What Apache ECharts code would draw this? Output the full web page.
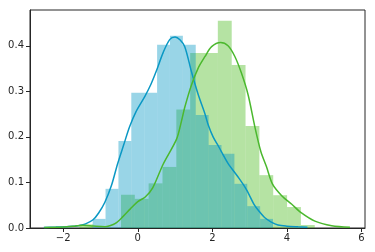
<!DOCTYPE html>
<html>
<head>
<meta charset="utf-8">
<script src="https://cdn.jsdelivr.net/npm/echarts@6/dist/echarts.min.js"></script>
<style>html,body{margin:0;padding:0;background:#fff}#c{width:375px;height:252px}</style>
</head>
<body>
<div id="c"></div>
<script>
// Histogram bin edges and density heights
var blueEdges = [-1.21, -0.865, -0.519, -0.174, 0.172, 0.518, 0.863, 1.209, 1.554, 1.900, 2.245, 2.591, 2.936, 3.282, 3.627];
var blueHeights = [0.020, 0.086, 0.191, 0.297, 0.297, 0.402, 0.422, 0.402, 0.248, 0.182, 0.163, 0.097, 0.048, 0.020];
var greenEdges = [-1.565, -1.194, -0.822, -0.451, -0.080, 0.291, 0.662, 1.034, 1.405, 1.776, 2.147, 2.519, 2.890, 3.261, 3.632, 4.004, 4.375, 4.746];
var greenHeights = [0.008, 0, 0, 0.073, 0.064, 0.098, 0.134, 0.260, 0.384, 0.384, 0.455, 0.358, 0.224, 0.116, 0.072, 0.046, 0.0066];

// KDE curves [x, density]
var blueKde = [[-2.52,0.001],[-2.2,0.002],[-1.9,0.003],[-1.6,0.005],[-1.4,0.009],[-1.2,0.018],[-1.05,0.033],[-0.886,0.056],[-0.7,0.095],[-0.545,0.140],[-0.38,0.182],[-0.22,0.222],[-0.05,0.255],[0.19,0.289],[0.35,0.315],[0.50,0.345],[0.68,0.385],[0.86,0.414],[1.0,0.419],[1.13,0.413],[1.26,0.398],[1.44,0.343],[1.62,0.293],[1.80,0.251],[1.89,0.226],[2.02,0.200],[2.16,0.180],[2.42,0.142],[2.69,0.112],[2.91,0.085],[3.13,0.050],[3.27,0.035],[3.40,0.023],[3.58,0.013],[3.76,0.0066],[4.0,0.004],[4.3,0.0025],[4.55,0.0015]];
var greenKde = [[-2.51,0.001],[-2.0,0.002],[-1.7,0.004],[-1.47,0.006],[-1.2,0.0045],[-0.886,0.003],[-0.75,0.005],[-0.6,0.010],[-0.4,0.025],[-0.2,0.042],[0.0,0.058],[0.2,0.068],[0.4,0.088],[0.68,0.140],[1.04,0.195],[1.17,0.234],[1.26,0.265],[1.44,0.314],[1.62,0.351],[1.80,0.376],[1.98,0.398],[2.22,0.407],[2.42,0.400],[2.6,0.377],[2.78,0.340],[2.96,0.292],[3.14,0.222],[3.3,0.168],[3.45,0.135],[3.61,0.097],[3.86,0.071],[4.13,0.052],[4.39,0.033],[4.75,0.015],[5.2,0.005],[5.69,0.0015]];

var xTicks = [-2, 0, 2, 4, 6];
var yTicks = [0, 0.1, 0.2, 0.3, 0.4];

function binData(edges, heights) {
  var out = [];
  for (var i = 0; i < heights.length; i++) out.push([edges[i], edges[i + 1], heights[i]]);
  return out;
}
function barRender(params, api) {
  var p0 = api.coord([api.value(0), api.value(2)]);
  var p1 = api.coord([api.value(1), 0]);
  return {
    type: 'rect',
    shape: { x: p0[0], y: p0[1], width: p1[0] - p0[0], height: p1[1] - p0[1] },
    style: api.style()
  };
}

var textColor = '#262626';
var chart = echarts.init(document.getElementById('c'), null, { renderer: 'canvas' });
chart.setOption({
  animation: false,
  grid: { left: 30, right: 10, top: 10, bottom: 24, show: true, borderColor: textColor, borderWidth: 1, backgroundColor: 'transparent' },
  xAxis: {
    type: 'value', min: -2.891, max: 6.094,
    axisLine: { show: true, onZero: false, lineStyle: { color: textColor, width: 1 } },
    axisTick: { show: true, length: 4, customValues: xTicks, lineStyle: { color: textColor } },
    axisLabel: { customValues: xTicks, color: textColor, fontSize: 10, fontFamily: 'DejaVu Sans', margin: 5,
      formatter: function (v) { return v < 0 ? '\u2212' + Math.abs(v) : String(v); } },
    splitLine: { show: false }
  },
  yAxis: {
    type: 'value', min: 0, max: 0.4785,
    axisLine: { show: true, onZero: false, lineStyle: { color: textColor, width: 1 } },
    axisTick: { show: true, length: 4, customValues: yTicks, lineStyle: { color: textColor } },
    axisLabel: { customValues: yTicks, color: textColor, fontSize: 10, fontFamily: 'DejaVu Sans', margin: 6,
      formatter: function (v) { return v.toFixed(1); } },
    splitLine: { show: false }
  },
  series: [
    { type: 'custom', renderItem: barRender, data: binData(greenEdges, greenHeights), z: 1,
      itemStyle: { color: 'rgba(70,185,25,0.4)' }, encode: { x: [0, 1], y: 2 } },
    { type: 'custom', renderItem: barRender, data: binData(blueEdges, blueHeights), z: 2,
      itemStyle: { color: 'rgba(0,150,196,0.4)' }, encode: { x: [0, 1], y: 2 } },
    { type: 'line', data: blueKde, smooth: 0.3, showSymbol: false, z: 3,
      lineStyle: { color: '#0a98c4', width: 1.5 } },
    { type: 'line', data: greenKde, smooth: 0.3, showSymbol: false, z: 4,
      lineStyle: { color: '#4bb82e', width: 1.5 } }
  ]
});
</script>
</body>
</html>
